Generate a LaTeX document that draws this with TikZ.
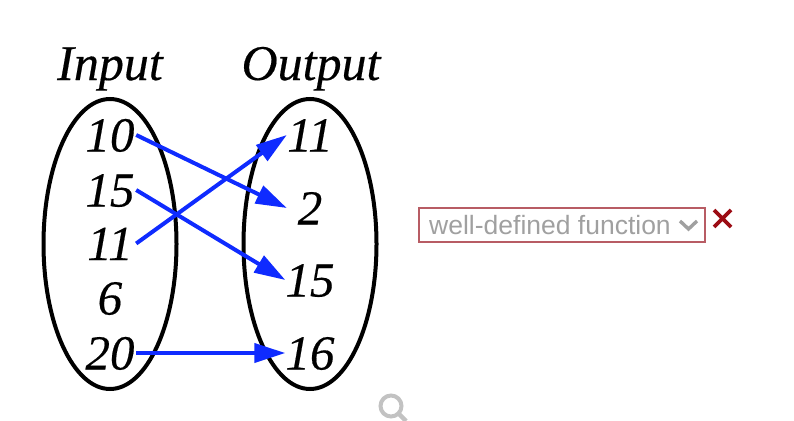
\documentclass[tikz,border=0pt]{standalone}
\usepackage{fontspec}
\setmainfont{Liberation Serif}
\newfontfamily\boldishserif[FakeBold=0.35]{Liberation Serif}
\newfontfamily\uisans{Liberation Sans}
\usetikzlibrary{arrows.meta,shapes.geometric}
\definecolor{arrowblue}{HTML}{0F2BFF}
\definecolor{boxred}{HTML}{B85C64}
\definecolor{crossred}{HTML}{9C0C14}
\definecolor{uigray}{HTML}{A0A0A0}
\definecolor{lensgray}{HTML}{C2C2C2}
\tikzset{
  x=1pt,y=-1pt,
  setoval/.style={draw=black,line width=4pt,ellipse,minimum width=133pt,minimum height=290pt,inner sep=0pt},
  val/.style={font=\boldishserif\fontsize{49}{49}\selectfont\itshape,inner sep=0pt,text height=33pt,text depth=0pt,anchor=center},
  inval/.style={val,minimum width=52pt},
  outval/.style={val,minimum width=46pt},
  head/.style={font=\boldishserif\fontsize{50}{50}\selectfont\itshape,inner sep=0pt,anchor=base},
  mapping/.style={draw=arrowblue,line width=4pt,-{Triangle[length=31pt,width=19pt]},shorten >=0pt,shorten <=0pt},
  dropdown/.style={draw=boxred,line width=2.2pt,minimum width=286pt,minimum height=34pt,inner sep=0pt,anchor=north west},
}
\begin{document}
\begin{tikzpicture}
\useasboundingbox (0,0) rectangle (794,420);
\clip (0,0) rectangle (794,420);
\node[setoval] (inset) at (110,244) {};
\node[setoval] (outset) at (310,244) {};
\node[head] (inhead) at (110,80) {Input};
\node[head] (outhead) at (311,80) {Output};
\node[inval] (i10) at (110,135) {10};
\node[inval] (i15) at (110,190) {15};
\node[inval] (i11) at (110,243.5) {11};
\node[inval] (i6) at (110,298) {6};
\node[inval] (i20) at (110,353) {20};
\node[outval] (o11) at (310,135) {11};
\node[outval] (o2) at (310,208) {2};
\node[outval] (o15) at (310,280) {15};
\node[outval] (o16) at (310,353) {16};
\draw[mapping] (i10.east) -- (o2.west);
\draw[mapping] (i15.east) -- (o15.west);
\draw[mapping] (i11.east) -- (o11.west);
\draw[mapping] (i20.east) -- (o16.west);
\node[dropdown] (dd) at (418,207) {};
\node[font=\uisans\fontsize{26.5}{26.5}\selectfont,text=uigray,inner sep=0pt,anchor=base west] (ddtext) at (429,234) {well-defined function};
\draw[uigray,line width=3.4pt] (680,221) -- (688.5,229) -- (697,221);
\draw[crossred,line width=3.6pt] (714,210) -- (731,227) (731,210) -- (714,227);
\draw[lensgray,line width=4pt] (391,406) circle (10.5);
\draw[lensgray,line width=4.5pt] (399,414) -- (406,421);
\end{tikzpicture}
\end{document}
